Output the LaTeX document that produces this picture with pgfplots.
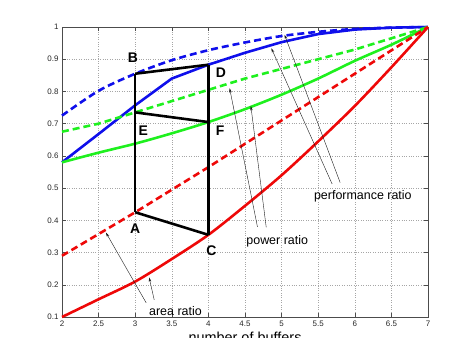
\documentclass[border=0pt]{standalone}
\usepackage{fontspec}
\setmainfont{Liberation Sans}
\usepackage{pgfplots}
\pgfplotsset{compat=1.18}
\usetikzlibrary{arrows.meta}
\definecolor{cblue}{RGB}{15,15,235}
\definecolor{cgreen}{RGB}{30,240,30}
\definecolor{cred}{RGB}{238,8,8}
\begin{document}
\begin{tikzpicture}
\begin{axis}[
  at={(0,0)}, anchor=south west,
  scale only axis, width=366bp, height=290bp,
  xmin=2, xmax=7, ymin=0.1, ymax=1,
  xtick={2,2.5,...,7}, ytick={0.1,0.2,...,1.0},
  xticklabels={2,2.5,3,3.5,4,4.5,5,5.5,6,6.5,7},
  yticklabels={0.1,0.2,0.3,0.4,0.5,0.6,0.7,0.8,0.9,1},
  tick align=inside, major tick length=4bp,
  grid=major,
  major grid style={dotted, gray!70, line width=0.5pt},
  axis line style={gray!60!black, line width=0.6pt},
  tick style={gray!60!black, line width=0.5pt},
  ticklabel style={font=\fontsize{8}{9}\selectfont, text=black!85},
  /pgf/number format/assume math mode=true,
  xlabel={number of buffers},
  xlabel style={font=\fontsize{14.5}{16}\selectfont, at={(axis description cs:0.5,0)}, anchor=north, yshift=-12bp},
  clip=false,
  every axis plot/.append style={line width=2.6pt, line join=round},
]
% blue dashed
\addplot[cblue, dash pattern=on 7pt off 4pt, smooth, tension=0.5] coordinates {
(2,0.725) (2.5,0.802) (3,0.855) (3.5,0.897) (4,0.928) (4.5,0.952) (5,0.972) (5.5,0.985) (6,0.994) (6.5,0.998) (7,1.0)};
% blue solid
\addplot[cblue] coordinates {
(2,0.58) (2.5,0.668) (3,0.757) (3.5,0.84) (4,0.883) (4.5,0.92) (5,0.953) (5.5,0.978) (6,0.992) (6.5,0.998) (7,1.0)};
% green dashed
\addplot[cgreen, dash pattern=on 7pt off 4pt] coordinates {
(2,0.675) (2.5,0.70) (3,0.735) (3.5,0.77) (4,0.805) (4.5,0.84) (5,0.87) (5.5,0.90) (6,0.93) (6.5,0.965) (7,1.0)};
% green solid
\addplot[cgreen, smooth, tension=0.5] coordinates {
(2,0.58) (2.5,0.61) (3,0.638) (3.5,0.67) (4,0.705) (4.5,0.745) (5,0.79) (5.5,0.84) (6,0.895) (6.5,0.945) (7,1.0)};
% red dashed
\addplot[cred, dash pattern=on 7pt off 4pt] coordinates {
(2,0.29) (3,0.425) (4,0.565) (5,0.71) (6,0.855) (7,1.0)};
% red solid
\addplot[cred, smooth, tension=0.5] coordinates {
(2,0.10) (2.5,0.155) (3,0.21) (3.5,0.28) (4,0.355) (4.5,0.445) (5,0.54) (5.5,0.645) (6,0.755) (6.5,0.875) (7,1.0)};
% black frame
\addplot[black] coordinates {(3,0.425) (3,0.855)};
\addplot[black] coordinates {(4,0.355) (4,0.883)};
\addplot[black] coordinates {(3,0.425) (4,0.355)};
\addplot[black] coordinates {(3,0.735) (4,0.705)};
\addplot[black] coordinates {(3,0.855) (4,0.883)};
% letters
\begin{scope}[every node/.style={font=\fontsize{14}{16}\selectfont\bfseries}]
\node at (axis cs:2.97,0.904) {B};
\node at (axis cs:4.17,0.857) {D};
\node at (axis cs:3.11,0.678) {E};
\node at (axis cs:4.16,0.677) {F};
\node at (axis cs:3.0,0.375) {A};
\node at (axis cs:4.04,0.306) {C};
\end{scope}
% annotations
\begin{scope}[every node/.style={font=\fontsize{12.5}{14}\selectfont}]
\node at (axis cs:6.11,0.476) {performance ratio};
\node at (axis cs:4.94,0.334) {power ratio};
\node at (axis cs:3.55,0.12) {area ratio};
\end{scope}
\begin{scope}[gray!20!black, line width=0.4pt, -{Stealth[length=4.5pt,width=2.5pt]}]
\draw (axis cs:5.69,0.513) -- (axis cs:4.86,0.934);
\draw (axis cs:5.80,0.517) -- (axis cs:5.04,0.976);
\draw (axis cs:4.67,0.380) -- (axis cs:4.29,0.81);
\draw (axis cs:4.79,0.378) -- (axis cs:4.58,0.755);
\draw (axis cs:3.15,0.144) -- (axis cs:2.60,0.362);
\draw (axis cs:3.26,0.153) -- (axis cs:3.19,0.223);
\end{scope}
\end{axis}
\pgfresetboundingbox
\useasboundingbox (-62bp,-21bp) rectangle (412bp,317bp);
\end{tikzpicture}
\end{document}
